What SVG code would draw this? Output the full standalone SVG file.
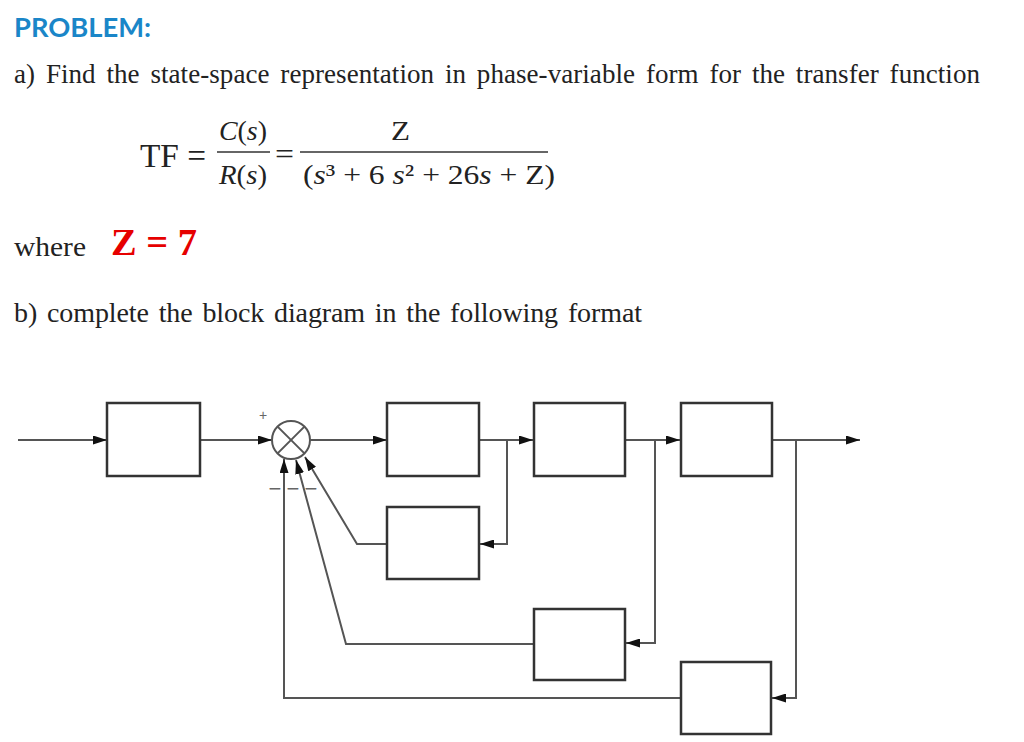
<svg xmlns="http://www.w3.org/2000/svg" width="1024" height="742" viewBox="0 0 1024 742">
<style>
.t{font-family:'Liberation Serif','Times New Roman',Times,serif;fill:#222;}
.box{fill:#fff;stroke:#333;stroke-width:2.5;}
.ln{fill:none;stroke:#555;stroke-width:2;}
.sg{font-family:'Liberation Sans',Arial,sans-serif;fill:#666;}
</style>
<defs>
<marker id="ah" viewBox="0 0 14 9" refX="14" refY="4.5" markerWidth="14" markerHeight="9" markerUnits="userSpaceOnUse" orient="auto">
<path d="M0,0 L14,4.5 L0,9 Z" fill="#111"/>
</marker>
</defs>
<rect width="1024" height="742" fill="#fff"/>
<g id="texts">
<text x="14" y="37" font-family="Lato,'Open Sans',sans-serif" font-weight="700" font-size="26" fill="#1a86c8" textLength="137" lengthAdjust="spacingAndGlyphs">PROBLEM:</text>
<text class="t" x="14" y="83" font-size="27" textLength="966" lengthAdjust="spacing" word-spacing="4">a) Find the state-space representation in phase-variable form for the transfer function</text>
<text class="t" x="140" y="167" font-size="34" textLength="66" lengthAdjust="spacingAndGlyphs">TF =</text>
<text class="t" x="219" y="140" font-size="28" textLength="48" lengthAdjust="spacingAndGlyphs"><tspan font-style="italic">C</tspan>(<tspan font-style="italic">s</tspan>)</text>
<text class="t" x="219" y="184" font-size="28" textLength="48" lengthAdjust="spacingAndGlyphs"><tspan font-style="italic">R</tspan>(<tspan font-style="italic">s</tspan>)</text>
<text class="t" x="275" y="164" font-size="30" textLength="19" lengthAdjust="spacingAndGlyphs">=</text>
<text class="t" x="391" y="140" font-size="28" textLength="19" lengthAdjust="spacingAndGlyphs">Z</text>
<text class="t" x="303" y="184" font-size="28" textLength="252" lengthAdjust="spacingAndGlyphs">(<tspan font-style="italic">s</tspan>³ + 6 <tspan font-style="italic">s</tspan>² + 26<tspan font-style="italic">s</tspan> +  Z)</text>
<text class="t" x="14" y="256" font-size="28" textLength="72" lengthAdjust="spacingAndGlyphs">where</text>
<text class="t" x="111" y="255" font-weight="700" font-size="38" style="fill:#e60000" textLength="86" lengthAdjust="spacingAndGlyphs">Z = 7</text>
<text class="t" x="14" y="322" font-size="28" textLength="628" lengthAdjust="spacing" word-spacing="3">b) complete the block diagram in the following format</text>
</g>
<g id="fraction-bars" stroke="#333" stroke-width="1.5">
<line x1="217" y1="152" x2="270" y2="152"/>
<line x1="300" y1="152" x2="548" y2="152"/>
</g>
<g id="connectors">
<line class="ln" x1="18" y1="440" x2="107" y2="440" marker-end="url(#ah)"/>
<line class="ln" x1="200" y1="440" x2="272" y2="440" marker-end="url(#ah)"/>
<line class="ln" x1="310" y1="440" x2="387" y2="440" marker-end="url(#ah)"/>
<line class="ln" x1="479" y1="440" x2="533" y2="440" marker-end="url(#ah)"/>
<line class="ln" x1="625" y1="440" x2="680" y2="440" marker-end="url(#ah)"/>
<line class="ln" x1="772" y1="440" x2="860" y2="440" marker-end="url(#ah)"/>
<polyline class="ln" points="507,440 507,544 480,544" marker-end="url(#ah)"/>
<polyline class="ln" points="655,440 655,643 626,643" marker-end="url(#ah)"/>
<polyline class="ln" points="796,440 796,698 772,698" marker-end="url(#ah)"/>
<polyline class="ln" points="387,544 357,544 305,457" marker-end="url(#ah)"/>
<polyline class="ln" points="534,644 346,644 296,460" marker-end="url(#ah)"/>
<polyline class="ln" points="681,698 284,698 284,459" marker-end="url(#ah)"/>
</g>
<g id="summer">
<circle cx="291" cy="440" r="19" fill="#fff" stroke="#555" stroke-width="2"/>
<line x1="277.6" y1="426.6" x2="304.4" y2="453.4" stroke="#555" stroke-width="2"/>
<line x1="304.4" y1="426.6" x2="277.6" y2="453.4" stroke="#555" stroke-width="2"/>
<text class="sg" x="263" y="420" font-size="14" text-anchor="middle">+</text>
<text class="sg" x="275" y="496" font-size="22" text-anchor="middle">−</text>
<text class="sg" x="293" y="496" font-size="22" text-anchor="middle">−</text>
<text class="sg" x="311" y="496" font-size="22" text-anchor="middle">−</text>
</g>
<g id="block1"><rect class="box" x="107" y="403" width="93" height="73"/></g>
<g id="block2"><rect class="box" x="387" y="403" width="92" height="73"/></g>
<g id="block3"><rect class="box" x="534" y="403" width="91" height="73"/></g>
<g id="block4"><rect class="box" x="681" y="403" width="91" height="73"/></g>
<g id="feedback1"><rect class="box" x="387" y="507" width="92" height="72"/></g>
<g id="feedback2"><rect class="box" x="534" y="609" width="91" height="71"/></g>
<g id="feedback3"><rect class="box" x="681" y="662" width="90" height="72"/></g>
</svg>
